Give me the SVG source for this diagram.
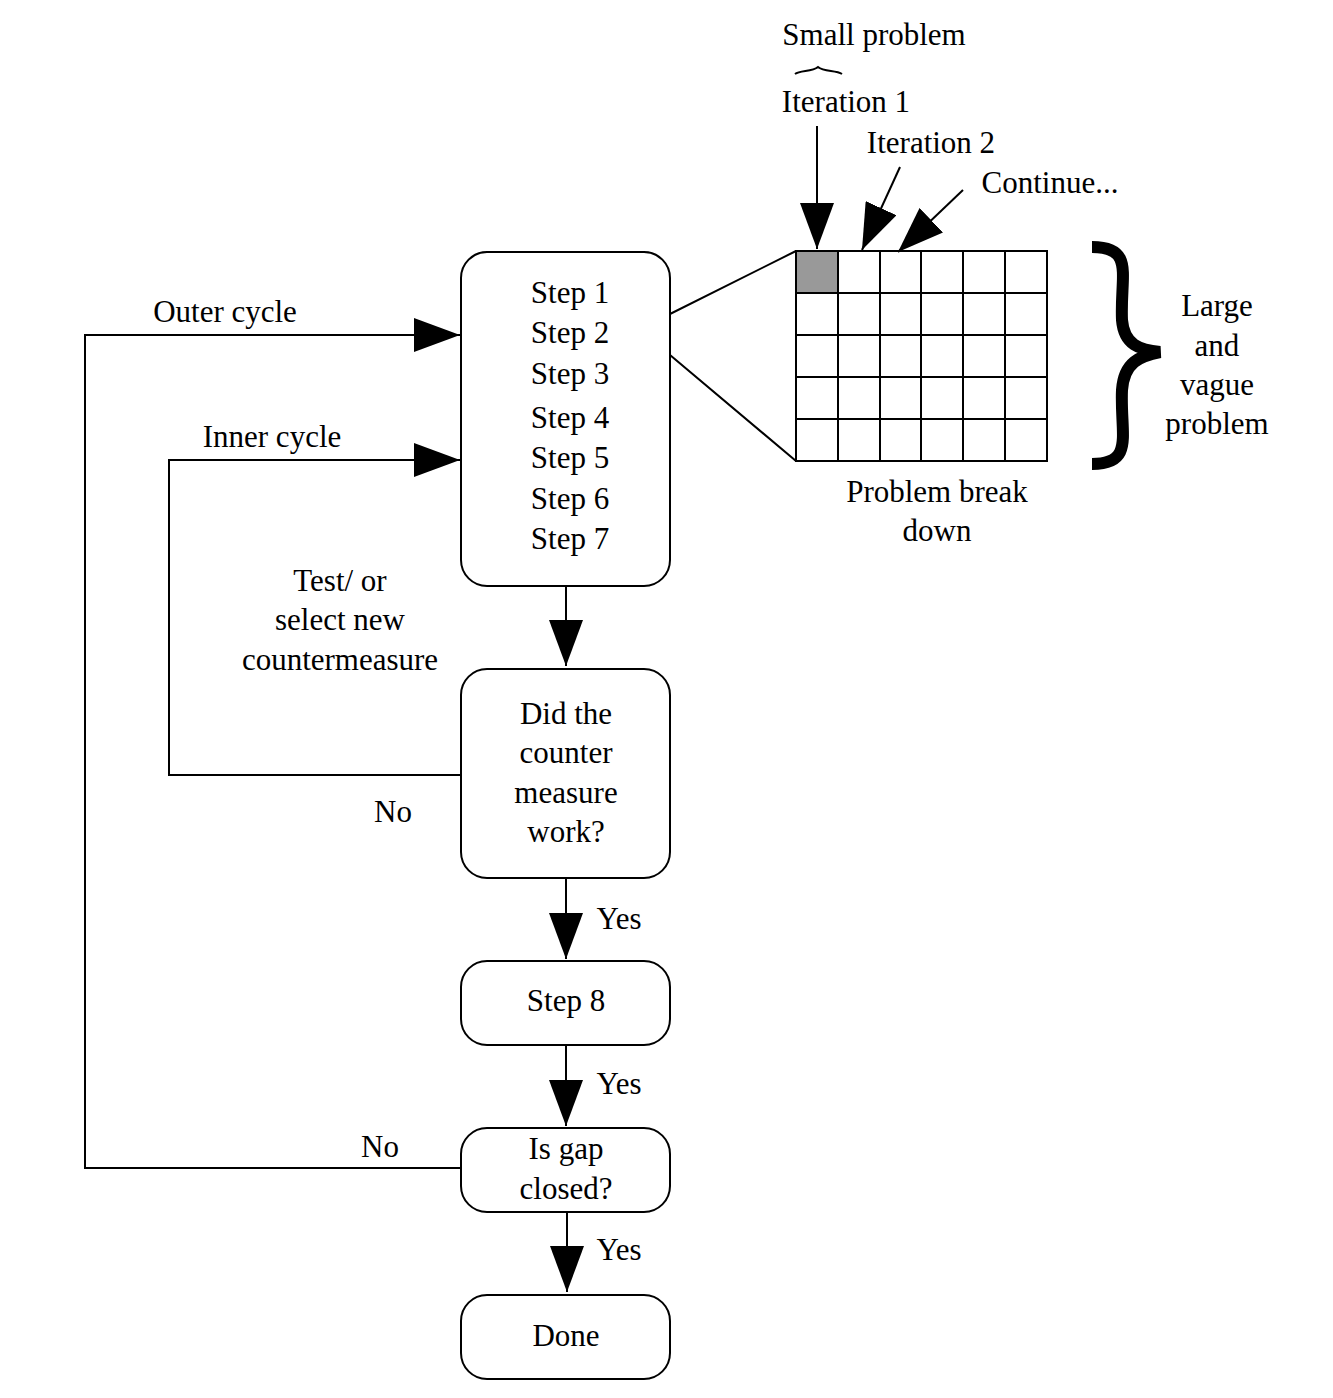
<svg xmlns="http://www.w3.org/2000/svg" width="1333" height="1398" viewBox="0 0 1333 1398">
<style>
text{font-family:"Liberation Serif",serif;font-size:31px;fill:#000;text-anchor:middle}
.box{fill:#fff;stroke:#000;stroke-width:2}
.ln{fill:none;stroke:#000;stroke-width:2}
</style>
<defs>
<marker id="ah" markerWidth="48" markerHeight="34" refX="46" refY="17" orient="auto" markerUnits="userSpaceOnUse">
<path d="M0,0 L46,17 L0,34 z" fill="#000"/>
</marker>
</defs>
<rect width="1333" height="1398" fill="#fff"/>
<g id="connectors">
<path class="ln" d="M566,586 V666" marker-end="url(#ah)"/>
<path class="ln" d="M566,878 V959" marker-end="url(#ah)"/>
<path class="ln" d="M566,1045 V1126" marker-end="url(#ah)"/>
<path class="ln" d="M567,1212 V1292" marker-end="url(#ah)"/>
<path class="ln" d="M461,775 H169 V460 H460" marker-end="url(#ah)"/>
<path class="ln" d="M461,1168 H85 V335 H460" marker-end="url(#ah)"/>
<path class="ln" d="M670,314 L796,251 M670,355 L796,461"/>
<path class="ln" d="M817,126 V249" marker-end="url(#ah)"/>
<path class="ln" d="M900,167 L862,250" marker-end="url(#ah)"/>
<path class="ln" d="M963,190 L898,252" marker-end="url(#ah)"/>
</g>
<g id="steps"><rect class="box" x="461" y="252" width="209" height="334" rx="26"/>
<text x="570" y="303">Step 1</text><text x="570" y="343">Step 2</text><text x="570" y="384">Step 3</text><text x="570" y="428">Step 4</text><text x="570" y="468">Step 5</text><text x="570" y="509">Step 6</text><text x="570" y="549">Step 7</text></g>
<g id="did"><rect class="box" x="461" y="669" width="209" height="209" rx="26"/>
<text x="566" y="724">Did the</text><text x="566" y="763">counter</text><text x="566" y="803">measure</text><text x="566" y="842">work?</text></g>
<g id="step8"><rect class="box" x="461" y="961" width="209" height="84" rx="26"/><text x="566" y="1011">Step 8</text></g>
<g id="gap"><rect class="box" x="461" y="1128" width="209" height="84" rx="26"/><text x="566" y="1159">Is gap</text><text x="566" y="1199">closed?</text></g>
<g id="done"><rect class="box" x="461" y="1295" width="209" height="84" rx="26"/><text x="566" y="1346">Done</text></g>
<g id="grid">
<rect x="796" y="251" width="42" height="42" fill="#999"/>
<path class="ln" d="M796,251 H1047 V461 H796 Z M838,251 V461 M880,251 V461 M921,251 V461 M963,251 V461 M1005,251 V461 M796,293 H1047 M796,335 H1047 M796,377 H1047 M796,419 H1047"/>
</g>
<path d="M1092,247 C1135,247 1120,275 1122,320 C1124,345 1140,350 1160,352 C1140,356 1124,362 1122,390 C1120,435 1135,464 1092,464" fill="none" stroke="#000" stroke-width="12"/>
<path class="ln" d="M795,74 C800,70 812,72 818,67 C824,72 836,70 842,74" stroke-width="1.5"/>
<g id="labels">
<text x="874" y="45">Small problem</text>
<text x="846" y="112">Iteration 1</text>
<text x="931" y="153">Iteration 2</text>
<text x="1050" y="193">Continue...</text>
<text x="1217" y="316">Large</text><text x="1217" y="356">and</text><text x="1217" y="395">vague</text><text x="1217" y="434">problem</text>
<text x="937" y="502">Problem break</text><text x="937" y="541">down</text>
<text x="225" y="322">Outer cycle</text>
<text x="272" y="447">Inner cycle</text>
<text x="340" y="591">Test/ or</text><text x="340" y="630">select new</text><text x="340" y="670">countermeasure</text>
<text x="393" y="822">No</text>
<text x="380" y="1157">No</text>
<text x="619" y="929">Yes</text><text x="619" y="1094">Yes</text><text x="619" y="1260">Yes</text>
</g>
</svg>
